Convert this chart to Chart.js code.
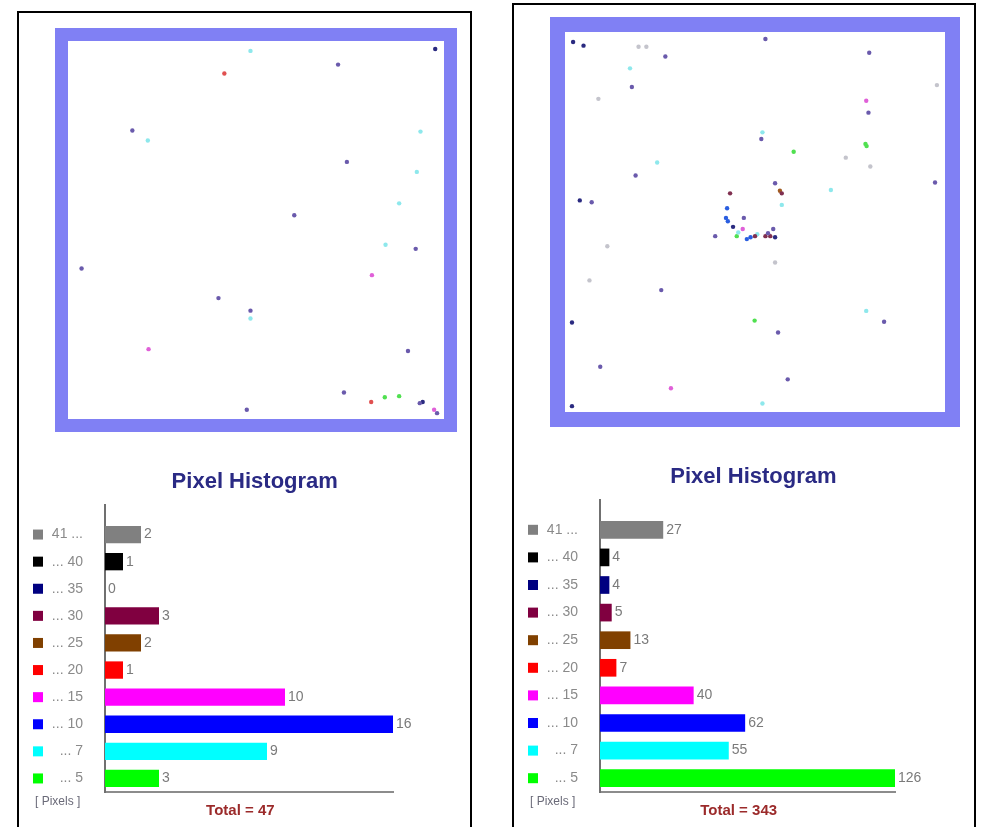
<!DOCTYPE html>
<html>
<head>
<meta charset="utf-8">
<script src="https://cdn.jsdelivr.net/npm/chart.js@4.4.1/dist/chart.umd.min.js"></script>
<style>
  html, body { margin: 0; padding: 0; background: #fff; overflow: hidden; }
  body { width: 982px; height: 827px; position: relative; }
  .panel { position: absolute; border: 2px solid #000; border-bottom: none; box-sizing: border-box; height: 900px; }
  .frame { position: absolute; box-sizing: border-box; border-style: solid; border-color: #8080f4; }
  canvas { position: absolute; }
</style>
</head>
<body>
<div class="panel" style="left:17px;top:11px;width:455px;"></div>
<div class="panel" style="left:512px;top:3px;width:464px;"></div>
<div class="frame" style="left:55px;top:28px;width:402px;height:404px;border-width:13px;"></div>
<div class="frame" style="left:550px;top:17px;width:410px;height:410px;border-width:15px;"></div>
<canvas id="dots1" width="376" height="378" style="left:68px;top:41px"></canvas>
<canvas id="dots2" width="380" height="380" style="left:565px;top:32px"></canvas>
<canvas id="hist1" width="450" height="370" style="left:19px;top:455px"></canvas>
<canvas id="hist2" width="466" height="370" style="left:514px;top:455px"></canvas>
<script>
// histogram bins (pixel size classes), top to bottom
const binLabels = ['41 ...', '... 40', '... 35', '... 30', '... 25', '... 20', '... 15', '... 10', '... 7', '... 5'];
const binColors = ['#808080', '#000000', '#000080', '#800040', '#804000', '#ff0000', '#ff00ff', '#0000ff', '#00ffff', '#00ff00'];
const countsLeft = [2, 1, 0, 3, 2, 1, 10, 16, 9, 3];
const countsRight = [27, 4, 4, 5, 13, 7, 40, 62, 55, 126];

// spots inside the frames, in % of the frame (x from left, y from top)
const kindColors = { p: '#6a5aac', n: '#2a2a80', u: '#2a5ee0', c: '#8ee8ec', m: '#e060d8', g: '#50e050', r: '#e05050', o: '#803050', b: '#a05a20', f: '#c4c4cc' };

const dotsLeftX = [98.7, 48.5, 41.4, 72.3, 16.4, 20.6, 94.7, 74.7, 93.7, 88.9, 60.4, 85.2, 93.4, 2.6, 81.5, 39.8, 48.5, 48.5, 20.8, 91.3, 73.9, 81.3, 85.0, 88.9, 95.3, 94.5, 98.4, 99.2, 47.5];
const dotsLeftY = [1.1, 1.6, 7.7, 5.3, 23.1, 25.8, 23.4, 31.6, 34.3, 42.8, 46.0, 54.0, 55.1, 60.4, 62.2, 68.4, 71.8, 73.9, 82.2, 82.7, 93.9, 96.5, 95.2, 94.9, 96.5, 96.8, 98.6, 99.5, 98.6];
const dotsLeftKind = ['n', 'c', 'r', 'p', 'p', 'c', 'c', 'p', 'c', 'c', 'p', 'c', 'p', 'p', 'm', 'p', 'p', 'c', 'm', 'p', 'p', 'r', 'g', 'g', 'n', 'p', 'm', 'p', 'p'];

const dotsRightX = [1.1, 3.9, 18.7, 20.8, 52.8, 25.9, 80.7, 16.4, 16.9, 7.9, 98.9, 79.9, 80.5, 52.0, 51.7, 60.4, 79.7, 80.0, 74.4, 81.0,
  23.7, 17.9, 98.4, 70.4, 2.9, 6.1, 55.4, 56.7, 57.2, 57.2, 43.3, 42.5, 42.2, 42.7, 47.0, 39.3, 44.1, 45.1, 46.7, 48.8,
  50.6, 52.8, 54.1, 55.4, 54.9, 45.5, 47.8, 50.0, 53.5, 10.3, 55.4, 5.5, 24.8, 0.8, 49.9, 56.2, 79.9, 84.7, 8.4, 27.4, 58.8, 52.0, 0.8];
const dotsRightY = [1.6, 2.6, 2.9, 2.9, 0.8, 5.5, 4.5, 8.7, 13.7, 16.9, 13.2, 17.4, 20.6, 25.9, 27.7, 31.1, 29.0, 29.6, 32.7, 35.1,
  34.0, 37.5, 39.4, 41.4, 44.2, 44.7, 39.6, 41.6, 42.3, 45.4, 42.3, 46.3, 48.9, 49.8, 48.9, 53.8, 51.3, 53.8, 51.9, 54.1,
  53.3, 53.8, 53.8, 54.1, 51.9, 52.8, 54.6, 53.8, 53.0, 56.5, 60.9, 65.7, 68.3, 77.0, 76.5, 79.7, 73.9, 76.8, 88.9, 94.7, 92.3, 98.8, 99.5];
const dotsRightKind = ['n', 'n', 'f', 'f', 'p', 'p', 'p', 'c', 'p', 'f', 'f', 'm', 'p', 'c', 'p', 'g', 'g', 'g', 'f', 'f',
  'c', 'p', 'p', 'c', 'n', 'p', 'p', 'b', 'o', 'c', 'o', 'u', 'u', 'u', 'p', 'p', 'n', 'g', 'm', 'u',
  'c', 'o', 'o', 'n', 'p', 'c', 'u', 'o', 'p', 'f', 'f', 'f', 'p', 'n', 'g', 'p', 'c', 'p', 'p', 'm', 'p', 'c', 'n'];

Chart.defaults.font.family = '"Liberation Sans", Arial, sans-serif';

function makeDots(id, xs, ys, kinds) {
  new Chart(document.getElementById(id), {
    type: 'scatter',
    data: {
      datasets: [{
        data: xs.map((x, i) => ({ x: x, y: ys[i] })),
        pointBackgroundColor: kinds.map(k => kindColors[k]),
        pointBorderWidth: 0,
        pointRadius: 2.2,
        clip: false
      }]
    },
    options: {
      responsive: false,
      animation: false,
      layout: { padding: 0 },
      plugins: { legend: { display: false }, tooltip: { enabled: false } },
      scales: {
        x: { type: 'linear', display: false, min: 0, max: 100 },
        y: { type: 'linear', display: false, min: 0, max: 100, reverse: true }
      }
    }
  });
}

// title, colour keys, value labels, total and the little axis stub above the first bin
const decor = {
  id: 'decor',
  afterDraw(chart) {
    const ctx = chart.ctx;
    const a = chart.chartArea;
    const counts = chart.data.datasets[0].data;
    const total = counts.reduce((s, v) => s + v, 0);
    ctx.save();
    ctx.strokeStyle = '#707070';
    ctx.lineWidth = 2;
    ctx.beginPath();
    ctx.moveTo(a.left, a.top - 17);
    ctx.lineTo(a.left, a.top);
    ctx.stroke();

    ctx.textBaseline = 'middle';
    ctx.textAlign = 'center';
    ctx.fillStyle = '#2a2a84';
    ctx.font = 'bold 22px "Liberation Sans", Arial, sans-serif';
    ctx.fillText('Pixel Histogram', a.left + a.width * 0.52, a.top - 39.5);

    ctx.fillStyle = '#9b2a2a';
    ctx.font = 'bold 15px "Liberation Sans", Arial, sans-serif';
    ctx.fillText('Total = ' + total, a.left + a.width * 0.47, a.bottom + 19);

    ctx.textAlign = 'left';
    ctx.fillStyle = '#6a6a78';
    ctx.font = '12px "Liberation Sans", Arial, sans-serif';
    ctx.fillText('[ Pixels ]', a.left - 70, a.bottom + 10);

    const meta = chart.getDatasetMeta(0);
    ctx.font = '14px "Liberation Sans", Arial, sans-serif';
    meta.data.forEach((bar, i) => {
      ctx.fillStyle = binColors[i];
      ctx.fillRect(a.left - 72, bar.y - 5, 10, 10);
      ctx.fillStyle = '#7a7a7a';
      ctx.fillText(String(counts[i]), bar.x + 3, bar.y);
    });
    ctx.restore();
  }
};

function makeHist(id, counts, padTop, padRight) {
  new Chart(document.getElementById(id), {
    type: 'bar',
    data: {
      labels: binLabels,
      datasets: [{
        data: counts,
        backgroundColor: binColors,
        categoryPercentage: 1,
        barPercentage: 0.64
      }]
    },
    options: {
      indexAxis: 'y',
      responsive: false,
      animation: false,
      layout: { padding: { top: padTop, right: padRight, bottom: 33, left: 0 } },
      plugins: { legend: { display: false }, tooltip: { enabled: false } },
      scales: {
        x: {
          min: 0,
          max: Math.max(...counts),
          ticks: { display: false },
          grid: { display: false, drawTicks: false },
          border: { color: '#8c8c8c', width: 2 },
          afterFit: s => { s.height = 0; }
        },
        y: {
          ticks: { color: '#8a8a8a', font: { size: 14 }, padding: 22 },
          grid: { display: false, drawTicks: false },
          border: { color: '#707070', width: 2 },
          afterFit: s => { s.width = 86; }
        }
      }
    },
    plugins: [decor]
  });
}

makeDots('dots1', dotsLeftX, dotsLeftY, dotsLeftKind);
makeDots('dots2', dotsRightX, dotsRightY, dotsRightKind);
makeHist('hist1', countsLeft, 66, 76);
makeHist('hist2', countsRight, 61, 85);
</script>
</body>
</html>
